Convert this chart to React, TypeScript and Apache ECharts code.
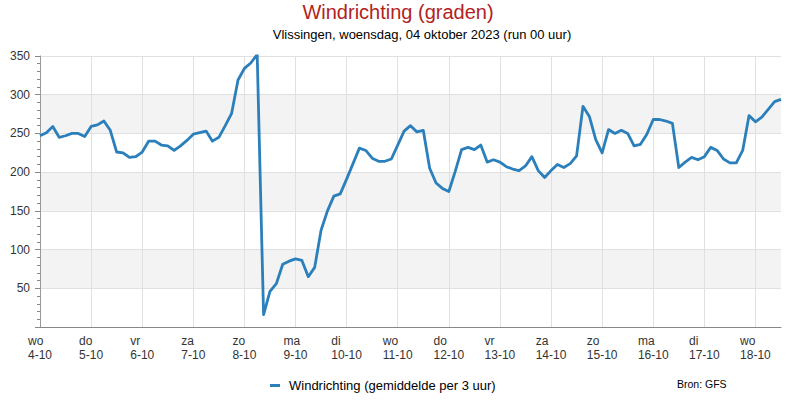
import { useEffect, useRef } from "react";
import * as echarts from "echarts";

// wind direction in degrees, one value per 3 hours, starting wo 4-10 00 uur
const windDir = [
  247, 251, 259, 245, 247, 250, 250, 246,
  259, 261, 266, 254, 226, 225, 219, 220,
  226, 240, 240, 235, 234, 228, 234, 241,
  249, 251, 253, 240, 245, 260, 276, 319,
  334, 341, 352, 16, 46, 56, 81, 85,
  88, 86, 65, 77, 125, 150, 169, 172,
  191, 211, 231, 228, 218, 214, 214, 217,
  235, 253, 260, 252, 254, 205, 186, 179,
  175, 201, 229, 232, 229, 235, 213, 216,
  213, 207, 204, 202, 208, 220, 202, 193,
  202, 210, 206, 211, 221, 285, 272, 242,
  225, 255, 250, 254, 250, 234, 236, 249,
  268, 268, 266, 263, 206, 213, 219, 216,
  220, 232, 228, 217, 212, 212, 228, 273,
  265, 271, 281, 291, 294,
];

const dayNames = ["wo", "do", "vr", "za", "zo", "ma", "di", "wo", "do", "vr", "za", "zo", "ma", "di", "wo"];
const dayDates = ["4-10", "5-10", "6-10", "7-10", "8-10", "9-10", "10-10", "11-10", "12-10", "13-10", "14-10", "15-10", "16-10", "17-10", "18-10"];
const hours = ["00", "03", "06", "09", "12", "15", "18", "21"];

const font = "'Liberation Sans', Arial, sans-serif";

export default function App() {
  const chartRef = useRef<HTMLDivElement>(null);

  useEffect(() => {
    document.body.style.margin = "0";
    if (!chartRef.current) return;
    const chart = echarts.init(chartRef.current, null, { renderer: "svg" });

    const categories: string[] = [];
    dayDates.forEach((d) => hours.forEach((h) => categories.push(`${d} ${h}u`)));
    const cats = categories.slice(0, windDir.length);

    chart.setOption({
      animation: false,
      textStyle: { fontFamily: font },
      grid: { left: 40, right: 19, top: 56, bottom: 73 },
      legend: {
        left: 265,
        top: 374,
        icon: "rect",
        itemWidth: 10,
        itemHeight: 3,
        textStyle: { fontSize: 13, color: "#000", padding: [0, 0, 0, 4] },
        data: ["Windrichting (gemiddelde per 3 uur)"],
      },
      xAxis: {
        type: "category",
        data: cats,
        boundaryGap: false,
        axisLine: { lineStyle: { color: "#888" } },
        axisTick: { show: false },
        axisLabel: {
          interval: (i: number) => i % 8 === 0,
          margin: 7,
          formatter: (_v: string, i: number) => {
            const d = Math.floor(i / 8);
            return `{a|${dayNames[d]}}\n{a|${dayDates[d]}}`;
          },
          rich: {
            a: { fontSize: 12, lineHeight: 14, color: "#333", align: "left", fontFamily: font },
          },
        },
        splitLine: {
          show: true,
          interval: (i: number) => i % 8 === 0,
          lineStyle: { color: "#e0e0e0" },
        },
      },
      yAxis: {
        type: "value",
        min: 0,
        max: 350,
        interval: 50,
        axisLine: { show: true, lineStyle: { color: "#999" } },
        axisTick: { show: true, length: 5, lineStyle: { color: "#888" } },
        minorTick: { show: true, splitNumber: 5, length: 3, lineStyle: { color: "#888" } },
        axisLabel: {
          fontSize: 12,
          color: "#333",
          margin: 10,
          formatter: (v: number) => (v === 0 ? "" : String(v)),
        },
        splitLine: { lineStyle: { color: "#e0e0e0" } },
        splitArea: { show: true, areaStyle: { color: ["#ffffff", "#f3f3f3"] } },
      },
      series: [
        {
          name: "Windrichting (gemiddelde per 3 uur)",
          type: "line",
          data: windDir,
          showSymbol: false,
          symbol: "none",
          color: "#2b7fba",
          lineStyle: { width: 2.8, color: "#2b7fba", join: "round" },
        },
      ],
      graphic: [
        {
          type: "text",
          x: 398,
          y: 12,
          style: {
            text: "Windrichting (graden)",
            fontSize: 20,
            fontFamily: font,
            fill: "#b22222",
            align: "center",
            verticalAlign: "middle",
          },
        },
        {
          type: "text",
          x: 422,
          y: 34.5,
          style: {
            text: "Vlissingen, woensdag, 04 oktober 2023 (run 00 uur)",
            fontSize: 13,
            fontFamily: font,
            fill: "#000",
            align: "center",
            verticalAlign: "middle",
          },
        },
        {
          type: "text",
          x: 677,
          y: 384,
          style: {
            text: "Bron: GFS",
            fontSize: 10.5,
            fontFamily: font,
            fill: "#000",
            align: "left",
            verticalAlign: "middle",
          },
        },
      ],
    });

    return () => chart.dispose();
  }, []);

  return <div ref={chartRef} style={{ width: 800, height: 400 }} />;
}
